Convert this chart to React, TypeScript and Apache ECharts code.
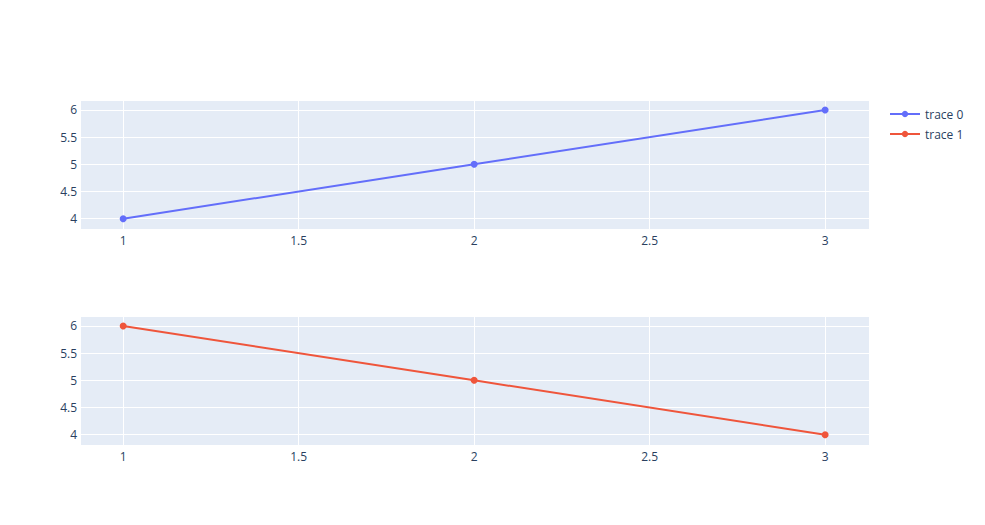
import React, { useEffect, useRef } from "react";
import * as echarts from "echarts";

const xValues = [1, 2, 3];
const trace0 = [4, 5, 6];
const trace1 = [6, 5, 4];
const seriesNames = ["trace 0", "trace 1"];
const colors = ["#636efa", "#EF553B"];

const X_MIN = 0.877;
const X_MAX = 3.125;
const Y_MIN = 3.81;
const Y_MAX = 6.184;

export default function App() {
  const ref = useRef<HTMLDivElement>(null);
  useEffect(() => {
    document.body.style.margin = "0";
    const chart = echarts.init(ref.current!, null, { renderer: "svg" });
    const font = '"Open Sans", verdana, arial, sans-serif';
    const xAxisCommon = {
      type: "value" as const,
      min: X_MIN,
      max: X_MAX,
      splitNumber: 5,
      axisLine: { show: false },
      axisTick: { show: false },
      splitLine: { show: true, lineStyle: { color: "#ffffff", width: 1 } },
      axisLabel: {
        color: "#2a3f5f",
        fontSize: 12,
        fontFamily: font,
        margin: 5,
        showMinLabel: false,
        showMaxLabel: false,
      },
    };
    const yAxisCommon = {
      type: "value" as const,
      min: Y_MIN,
      max: Y_MAX,
      splitNumber: 5,
      axisLine: { show: false },
      axisTick: { show: false },
      splitLine: { show: true, lineStyle: { color: "#ffffff", width: 1 } },
      axisLabel: {
        color: "#2a3f5f",
        fontSize: 12,
        fontFamily: font,
        margin: 3,
        showMinLabel: false,
        showMaxLabel: false,
      },
    };
    const pairs = (ys: number[]) => xValues.map((x, i) => [x, ys[i]]);
    chart.setOption({
      animation: false,
      textStyle: { fontFamily: font },
      grid: [
        {
          left: 80,
          top: 100,
          width: 789,
          height: 129,
          show: true,
          backgroundColor: "#E5ECF6",
          borderWidth: 0,
        },
        {
          left: 80,
          top: 316,
          width: 789,
          height: 129,
          show: true,
          backgroundColor: "#E5ECF6",
          borderWidth: 0,
        },
      ],
      xAxis: [
        { ...xAxisCommon, gridIndex: 0 },
        { ...xAxisCommon, gridIndex: 1 },
      ],
      yAxis: [
        { ...yAxisCommon, gridIndex: 0 },
        { ...yAxisCommon, gridIndex: 1 },
      ],
      legend: {
        orient: "vertical",
        left: 884,
        top: 103,
        itemWidth: 30,
        itemHeight: 8,
        itemGap: 8,
        textStyle: { color: "#2a3f5f", fontSize: 12, fontFamily: font },
        data: seriesNames,
      },
      series: [
        {
          name: seriesNames[0],
          type: "line",
          xAxisIndex: 0,
          yAxisIndex: 0,
          data: pairs(trace0),
          symbol: "circle",
          symbolSize: 7,
          lineStyle: { color: colors[0], width: 2 },
          itemStyle: { color: colors[0] },
        },
        {
          name: seriesNames[1],
          type: "line",
          xAxisIndex: 1,
          yAxisIndex: 1,
          data: pairs(trace1),
          symbol: "circle",
          symbolSize: 7,
          lineStyle: { color: colors[1], width: 2 },
          itemStyle: { color: colors[1] },
        },
      ],
    });
    return () => chart.dispose();
  }, []);
  return (
    <div
      ref={ref}
      style={{ position: "absolute", left: 0, top: 0, width: 985, height: 525, background: "#fff" }}
    />
  );
}
